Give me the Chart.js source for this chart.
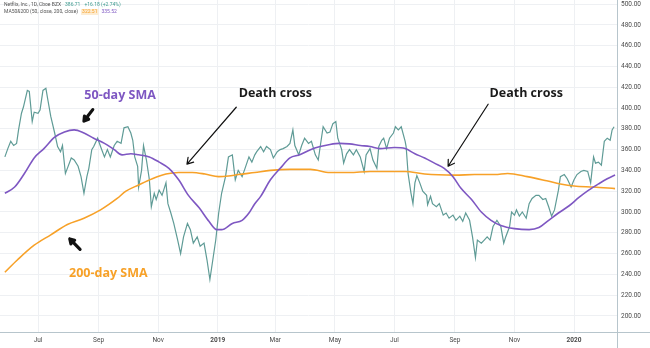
<!DOCTYPE html>
<html>
<head>
<meta charset="utf-8">
<script src="https://cdn.jsdelivr.net/npm/chart.js@4.4.0/dist/chart.umd.min.js"></script>
<style>
  html, body { margin: 0; padding: 0; background: #fff; }
  #wrap { position: relative; width: 650px; height: 348px; }
</style>
</head>
<body>
<div id="wrap"><canvas id="chart" width="650" height="348"></canvas></div>
<script>
// days counted from 2018-07-01
const monthTickDays = [0, 62, 123, 184, 243, 304, 365, 427, 488, 549];
const monthTickLabels = ['Jul', 'Sep', 'Nov', '2019', 'Mar', 'May', 'Jul', 'Sep', 'Nov', '2020'];
const priceTicks = [200, 220, 240, 260, 280, 300, 320, 340, 360, 380, 400, 420, 440, 460, 480, 500];

const priceDay = [-34,-31,-28,-25,-22,-20,-17,-15,-11,-9,-6,-4,0,2,5,8,10,13,17,20,
  23,25,28,30,34,37,41,44,47,50,52,55,57,61,64,68,71,74,78,81,
  85,88,92,95,97,99,102,103,106,108,111,114,116,119,121,124,127,131,133,136,
  139,143,146,149,153,156,159,163,166,170,173,176,179,182,185,188,192,195,199,202,
  205,209,212,216,219,222,224,228,231,234,238,241,245,248,251,255,258,261,263,267,
  270,273,277,280,284,287,289,292,296,299,302,305,307,311,313,316,319,323,326,330,
  334,336,340,343,347,349,352,354,357,360,364,366,369,372,376,377,379,382,384,386,
  388,391,394,398,399,402,404,408,411,415,418,421,425,428,432,435,438,442,445,448,
  450,454,457,460,463,466,470,474,477,479,483,485,488,490,493,496,500,503,506,510,
  513,517,520,523,526,529,533,535,539,542,546,549,552,556,559,563,566,569,571,574,
  577,580,583,586,588,590];
const priceClose = [353,361,368,364,366,379,395,401,417,416,387,396,395,398,417,419,408,392,376,363,
  358,364,337,342,352,350,344,334,318,334,342,360,363,371,363,353,360,353,364,368,
  366,381,382,376,369,353,344,324,340,364,350,331,305,318,312,321,316,328,308,299,
  289,273,260,276,289,283,270,276,267,270,254,235,254,273,299,318,334,353,355,331,
  340,334,342,353,348,355,358,363,358,363,360,352,358,360,361,363,366,379,364,355,
  364,371,366,368,355,350,363,382,376,377,385,387,371,360,347,356,360,355,360,353,
  339,355,361,350,342,363,369,371,361,371,376,382,379,382,368,363,337,318,308,328,
  335,328,320,316,307,315,308,305,308,297,299,294,297,292,296,291,299,292,276,256,
  273,270,273,276,273,286,292,286,270,276,286,300,297,302,296,300,294,308,313,316,
  316,312,313,305,296,302,321,334,336,332,324,331,336,339,340,339,328,353,347,348,
  345,368,371,369,379,382];

const sma50Day = [-34,-24,-14,-4,6,17,27,37,47,57,68,78,86,95,103,114,124,134,144,154,
  165,175,183,188,199,209,216,222,228,238,248,258,268,279,289,299,309,319,330,340,
  350,365,376,386,396,406,416,425,433,444,454,464,474,488,503,513,523,533,544,554,
  564,574,583,591];
const sma50 = [318,324,337,352,361,372,377,379,376,371,366,360,355,356,355,353,348,342,331,316,
  304,291,283,283,289,292,299,308,315,331,342,352,355,360,363,365,366,365.5,364,363,
  361,362,361,356,352,347,342,334,323,312,300,292,287,284,283,285,292,299,306,314,
  321,327,332,335.5];

const sma200Day = [-34,-21,-4,13,30,47,64,81,90,103,117,131,144,158,171,185,195,205,222,238,
  258,279,299,319,340,360,376,396,427,447,468,481,501,521,535,549,569,591];
const sma200 = [242,254,268,278,288,294,302,313,320,326,332,336.5,338,338,336.5,334,334.6,336,338,340,
  341,341,338,338,339,339,339,336.5,335.5,336,336,337,334,330,327,325,324,322.5];

const FONT = 'Roboto, "Open Sans", sans-serif';
const PRICE_COLOR = '#5f9b96';
const SMA50_COLOR = '#7e57c2';
const SMA200_COLOR = '#f7a128';
const GRID_COLOR = '#eef0f3';
const FRAME_COLOR = '#b7c5cc';

function pairs(xs, ys) {
    return xs.map((x, i) => ({ x: x, y: ys[i] }));
}

// annotations in data units (day, price)
const notes = [
    { text: '50-day SMA', day: 84, value: 412.5, color: SMA50_COLOR },
    { text: '200-day SMA', day: 72, value: 241, color: SMA200_COLOR },
    { text: 'Death cross', day: 243, value: 414.5, color: '#1b1b1b' },
    { text: 'Death cross', day: 500, value: 414.5, color: '#1b1b1b' }
];
const arrows = [
    { from: [203, 400.8], to: [152.5, 346], width: 1.2, head: 7 },
    { from: [461, 403.7], to: [420, 344], width: 1.2, head: 7 },
    { from: [56, 398.5], to: [47, 387.5], width: 3.2, head: 5 },
    { from: [43, 264], to: [32.5, 274], width: 3.2, head: 5 }
];

function drawArrow(ctx, x1, y1, x2, y2, width, head) {
    const ang = Math.atan2(y2 - y1, x2 - x1);
    ctx.save();
    ctx.strokeStyle = '#111';
    ctx.lineWidth = width;
    ctx.lineCap = 'round';
    ctx.lineJoin = 'round';
    ctx.beginPath();
    ctx.moveTo(x1, y1);
    ctx.lineTo(x2, y2);
    ctx.moveTo(x2 - head * Math.cos(ang - 0.55), y2 - head * Math.sin(ang - 0.55));
    ctx.lineTo(x2, y2);
    ctx.lineTo(x2 - head * Math.cos(ang + 0.55), y2 - head * Math.sin(ang + 0.55));
    ctx.stroke();
    ctx.restore();
}

const overlayPlugin = {
    id: 'overlay',
    afterDraw(chart) {
        const ctx = chart.ctx;
        const area = chart.chartArea;
        const xs = chart.scales.x;
        const ys = chart.scales.y;

        // frame lines of the price and time axes
        ctx.save();
        ctx.strokeStyle = FRAME_COLOR;
        ctx.lineWidth = 1;
        ctx.beginPath();
        ctx.moveTo(Math.round(area.right) + 0.5, 0);
        ctx.lineTo(Math.round(area.right) + 0.5, chart.height);
        ctx.moveTo(0, Math.round(area.bottom) + 0.5);
        ctx.lineTo(chart.width, Math.round(area.bottom) + 0.5);
        ctx.stroke();
        ctx.restore();

        // legend header
        ctx.save();
        ctx.font = '5px ' + FONT;
        ctx.textBaseline = 'middle';
        let x = 4;
        const header1 = [['Netflix, Inc., 1D, Cboe BZX', '#555'], ['386.71', '#3d9a8f'], ['+16.18 (+2.74%)', '#3d9a8f']];
        header1.forEach(([t, c]) => {
            ctx.fillStyle = c;
            ctx.fillText(t, x, 5);
            x += ctx.measureText(t).width + 4;
        });
        x = 4;
        const header2 = [['MA50&200 (50, close, 200, close)', '#555', null], ['322.51', SMA200_COLOR, '#fdecd2'], ['335.52', SMA50_COLOR, null]];
        header2.forEach(([t, c, bg]) => {
            const w = ctx.measureText(t).width;
            if (bg) {
                ctx.fillStyle = bg;
                ctx.fillRect(x - 1, 9, w + 2, 6);
            }
            ctx.fillStyle = c;
            ctx.fillText(t, x, 12);
            x += w + 4;
        });
        ctx.restore();

        // annotations
        ctx.save();
        ctx.font = 'bold 12.5px "Open Sans", ' + FONT;
        ctx.textAlign = 'center';
        ctx.textBaseline = 'middle';
        notes.forEach(n => {
            ctx.fillStyle = n.color;
            ctx.fillText(n.text, xs.getPixelForValue(n.day), ys.getPixelForValue(n.value));
        });
        ctx.restore();
        arrows.forEach(a => {
            drawArrow(ctx,
                xs.getPixelForValue(a.from[0]), ys.getPixelForValue(a.from[1]),
                xs.getPixelForValue(a.to[0]), ys.getPixelForValue(a.to[1]),
                a.width, a.head);
        });
    }
};

const chart = new Chart(document.getElementById('chart'), {
    type: 'line',
    data: {
        datasets: [
            {
                label: 'MA 50',
                data: pairs(sma50Day, sma50),
                borderColor: SMA50_COLOR,
                borderWidth: 1.6,
                pointRadius: 0,
                cubicInterpolationMode: 'monotone'
            },
            {
                label: 'MA 200',
                data: pairs(sma200Day, sma200),
                borderColor: SMA200_COLOR,
                borderWidth: 1.6,
                pointRadius: 0,
                cubicInterpolationMode: 'monotone'
            },
            {
                label: 'Netflix',
                data: pairs(priceDay, priceClose),
                borderColor: PRICE_COLOR,
                borderWidth: 1.2,
                pointRadius: 0,
                tension: 0
            }
        ]
    },
    options: {
        responsive: false,
        animation: false,
        layout: { padding: 0 },
        plugins: {
            legend: { display: false },
            tooltip: { enabled: false }
        },
        scales: {
            x: {
                type: 'linear',
                min: -39,
                max: 593,
                afterBuildTicks: s => { s.ticks = monthTickDays.map(v => ({ value: v })); },
                afterFit: s => { s.height = 16; s.paddingLeft = 0; s.paddingRight = 0; },
                grid: { color: GRID_COLOR, drawTicks: false },
                border: { display: false },
                ticks: {
                    autoSkip: false,
                    maxRotation: 0,
                    padding: 4,
                    color: '#4a4a4a',
                    font: ctx => ({
                        family: FONT,
                        size: 6.5,
                        weight: /^\d{4}$/.test(monthTickLabels[ctx.index]) ? 'bold' : 'normal'
                    }),
                    callback: (v, i) => monthTickLabels[i]
                }
            },
            y: {
                position: 'right',
                min: 184.5,
                max: 504,
                afterBuildTicks: s => { s.ticks = priceTicks.map(v => ({ value: v })); },
                afterFit: s => { s.width = 33; s.paddingTop = 0; s.paddingBottom = 0; },
                grid: { color: GRID_COLOR, drawTicks: false },
                border: { display: false },
                ticks: {
                    padding: 4,
                    color: '#4a4a4a',
                    font: { family: FONT, size: 6.5 },
                    callback: v => v.toFixed(2)
                }
            }
        }
    },
    plugins: [overlayPlugin]
});
</script>
</body>
</html>
